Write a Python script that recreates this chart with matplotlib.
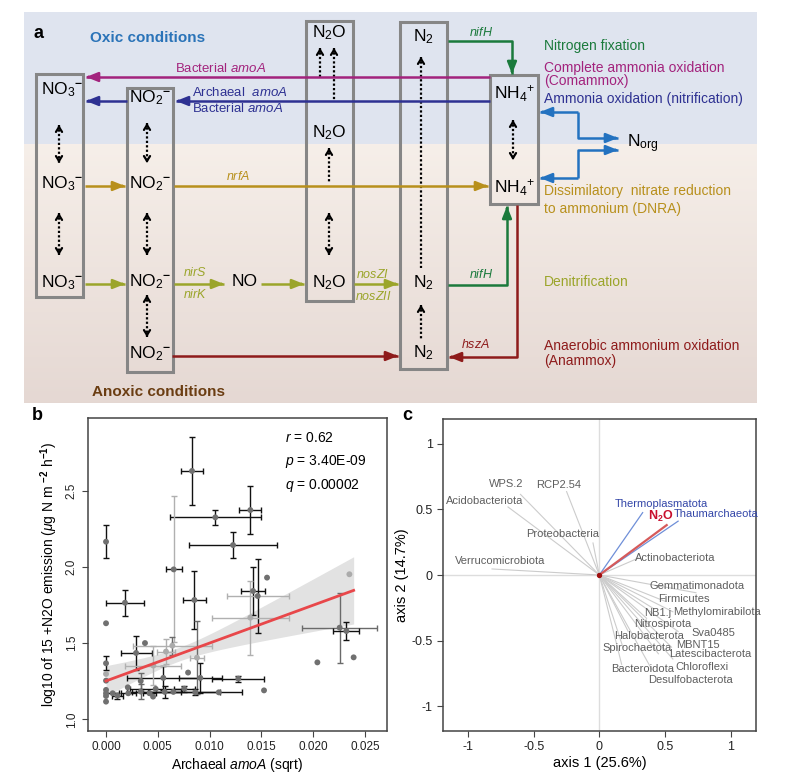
import matplotlib
matplotlib.use('Agg')
import matplotlib.pyplot as plt
import numpy as np
from matplotlib.patches import Rectangle

plt.rcParams['font.family'] = ['Liberation Sans', 'DejaVu Sans']
plt.rcParams['mathtext.fontset'] = 'custom'
plt.rcParams['mathtext.rm'] = 'Liberation Sans'
plt.rcParams['mathtext.it'] = 'Liberation Sans:italic'
plt.rcParams['mathtext.bf'] = 'Liberation Sans:bold'
NARROW = ['Liberation Sans Narrow', 'Liberation Sans', 'DejaVu Sans']

W, H = 786, 782

# ---------------- panel b data ----------------
b_x = [0, 0.0083, 0.01055, 0.01393, 0.01226, 0.00653, 0.00183, 0, 0.00853, 0.01419,
       0.01464, 0.01554, 0.01393, 0.02349, 0.02255, 0.0232, 0.0204, 0.0239, 0.01525, 0.01088,
       0.01277, 0.0091, 0.00553, 0.00376, 0.0029, 0.0064, 0.00579, 0.00878, 0.00457, 0.00792,
       0, 0, 0, 0.00335, 0.0021, 0, 0, 0, 0, 0.0011,
       0.00215, 0.00335, 0.00421, 0.00454, 0.00479, 0.0065, 0.00756, 0.00862, 0.00064, 0.00566]
b_y = [2.167, 2.632, 2.327, 2.375, 2.145, 1.985, 1.766, 1.631, 1.784, 1.843,
       1.81, 1.931, 1.668, 1.953, 1.602, 1.58, 1.374, 1.407, 1.19, 1.177,
       1.267, 1.272, 1.272, 1.501, 1.436, 1.484, 1.445, 1.405, 1.353, 1.307,
       1.368, 1.298, 1.254, 1.252, 1.21, 1.193, 1.171, 1.153, 1.116, 1.155,
       1.171, 1.182, 1.171, 1.149, 1.2, 1.18, 1.201, 1.177, 1.171, 1.18]
b_xerr = [0, 0.0011, 0.0044, 0.00106, 0.00425, 0.00077, 0.00187, 0, 0.00113, 0.0012,
          0.003, 0, 0.0037, 0, 0.0036, 0.00125, 0, 0, 0, 0,
          0.0025, 0.0021, 0.0035, 0, 0.0015, 0.0038, 0.0009, 0.0007, 0.0027, 0,
          0, 0, 0, 0, 0, 0, 0, 0, 0, 0.0005,
          0.0007, 0.0008, 0.0006, 0, 0.0025, 0.0045, 0.001, 0.0045, 0.0006, 0.0016]
b_yerr = [0.107, 0.222, 0.047, 0.16, 0.088, 0.48, 0.085, 0, 0.19, 0.16,
          0.245, 0, 0.243, 0, 0.23, 0.062, 0, 0, 0, 0,
          0.02, 0.1, 0.08, 0, 0.11, 0.06, 0.08, 0.24, 0.13, 0,
          0.047, 0, 0, 0.05, 0, 0, 0, 0, 0, 0.02,
          0, 0.05, 0, 0, 0, 0, 0.02, 0.02, 0, 0.04]
# shade group of horizontal / vertical bars and dots (0 black, 1 dark grey, 2 light grey)
b_xgrp = [0, 0, 0, 0, 0, 0, 0, 0, 0, 0,
          2, 0, 2, 0, 1, 0, 0, 0, 0, 0,
          0, 0, 0, 0, 0, 2, 2, 2, 2, 0,
          0, 0, 0, 0, 0, 0, 0, 0, 0, 0,
          0, 0, 0, 0, 0, 0, 0, 0, 0, 0]
b_ygrp = [0, 0, 0, 0, 0, 2, 0, 0, 0, 0,
          0, 0, 2, 0, 1, 0, 0, 0, 0, 0,
          0, 0, 0, 0, 0, 1, 2, 1, 2, 0,
          0, 0, 0, 1, 0, 0, 0, 0, 0, 0,
          0, 1, 0, 0, 0, 0, 0, 0, 0, 0]
b_dot = [1, 1, 1, 1, 1, 1, 1, 1, 1, 1,
         1, 1, 2, 2, 1, 1, 1, 1, 1, 1,
         1, 1, 1, 1, 1, 2, 2, 2, 2, 1,
         1, 2, 1, 1, 1, 1, 1, 1, 1, 1,
         1, 1, 1, 1, 1, 1, 1, 1, 1, 1]
fit_intercept, fit_slope = 1.252, 24.9
band_xc, band_min, band_spread = 0.007, 0.045, 12.8
fit_xrange = (0.0, 0.0239)
stats = [r'$\mathit{r}$ = 0.62', r'$\mathit{p}$ = 3.40E-09', r'$\mathit{q}$ = 0.00002']

# ---------------- panel c data ----------------
taxa = ['Acidobacteriota', 'WPS.2', 'RCP2.54', 'Proteobacteria', 'Verrucomicrobiota',
        'Thermoplasmatota', 'Thaumarchaeota', 'N2O', 'Actinobacteriota', 'Gemmatimonadota',
        'Firmicutes', 'NB1.j', 'Methylomirabilota', 'Nitrospirota', 'Sva0485',
        'Halobacterota', 'MBNT15', 'Spirochaetota', 'Latescibacterota', 'Bacteroidota',
        'Chloroflexi', 'Desulfobacterota']
axis1 = [-0.695, -0.6, -0.249, -0.048, -0.817, 0.33, 0.60, 0.513, 0.30, 0.736,
         0.5, 0.42, 0.56, 0.36, 0.6, 0.22, 0.55, 0.18, 0.56, 0.17, 0.45, 0.40]
axis2 = [0.518, 0.614, 0.635, 0.244, 0.046, 0.475, 0.41, 0.38, 0.13, -0.135,
         -0.2, -0.26, -0.28, -0.33, -0.43, -0.43, -0.55, -0.55, -0.64, -0.68, -0.6, -0.72]
# label anchors (x, y, horizontal alignment)
lab_x = [-0.876, -0.71, -0.31, -0.28, -0.756, 0.475, 0.565, 0.47, 0.576, 0.741,
         0.647, 0.546, 0.561, 0.48, 0.868, 0.378, 0.754, 0.289, 0.848, 0.332, 0.779, 0.695]
lab_y = [0.566, 0.69, 0.688, 0.31, 0.104, 0.543, 0.462, 0.444, 0.127, -0.081,
         -0.185, -0.292, -0.282, -0.373, -0.444, -0.464, -0.533, -0.558, -0.6, -0.718, -0.703, -0.8]
lab_ha = ['center'] * 6 + ['left', 'center', 'center', 'center', 'center', 'right', 'left'] + ['center'] * 9
archaea = ['Thermoplasmatota', 'Thaumarchaeota']

fig = plt.figure(figsize=(W / 100, H / 100), dpi=100, facecolor='white')

# ================= panel a (pixel coordinates) =================
ax = fig.add_axes([0, 0, 1, 1])
ax.set_xlim(0, W)
ax.set_ylim(H, 0)
ax.axis('off')

ax.add_patch(Rectangle((24, 12), 733, 132, facecolor='#dfe4ef', edgecolor='none', zorder=0))
grad = np.linspace(0, 1, 200)[:, None]
top_c = np.array([0.965, 0.937, 0.914])
bot_c = np.array([0.898, 0.847, 0.827])
img = top_c[None, None, :] * (1 - grad[:, :, None]) + bot_c[None, None, :] * grad[:, :, None]
ax.imshow(img, extent=(24, 757, 403, 144), aspect='auto', zorder=0)
ax.set_xlim(0, W)
ax.set_ylim(H, 0)

BOX = '#868686'
for (x0, y0, x1, y1) in [(36, 74, 83, 297), (127, 88, 173, 372), (306, 21, 353, 301),
                         (400, 22, 447, 369), (490, 75, 538, 204)]:
    ax.add_patch(Rectangle((x0, y0), x1 - x0, y1 - y0, facecolor='none',
                           edgecolor=BOX, lw=2.2, zorder=3))

SP = 12.5
NO3 = r'NO$_3{}^{\mathbf{-}}$'
NO2 = r'NO$_2{}^{\mathbf{-}}$'
NH4 = r'NH$_4{}^{+}$'
species = [(62, 90, NO3), (62, 184, NO3), (62, 283, NO3),
           (150, 98, NO2), (150, 184, NO2), (150, 282, NO2), (150, 354, NO2),
           (329, 33, r'N$_2$O'), (329, 133, r'N$_2$O'), (329, 283, r'N$_2$O'),
           (423, 37, r'N$_2$'), (423, 283, r'N$_2$'), (423, 353, r'N$_2$'),
           (515, 94, NH4), (515, 188, NH4),
           (245, 281, 'NO'), (643, 144, r'N$_{\mathrm{org}}$')]
for x, y, s in species:
    ax.text(x, y, s, fontsize=SP, ha='center', va='center', color='black', zorder=5)


def head(x, y, dx, dy, color, style='-|>,head_length=0.7,head_width=0.28', lw=1.8):
    ax.annotate('', xy=(x, y), xytext=(x - dx, y - dy),
                arrowprops=dict(arrowstyle=style, color=color, lw=lw,
                                shrinkA=0, shrinkB=0), zorder=4)


def path_arrow(xs, ys, color, end_head=True, lw=1.8):
    ax.plot(xs, ys, color=color, lw=lw, solid_capstyle='butt', zorder=4)
    if end_head:
        dx, dy = xs[-1] - xs[-2], ys[-1] - ys[-2]
        n = np.hypot(dx, dy)
        head(xs[-1], ys[-1], dx / n * 3, dy / n * 3, color, lw=lw)


def dotted(x, ya, yb, top_head=True, bottom_head=True):
    ax.plot([x, x], [ya, yb], color='black', lw=1.6, ls=(0, (1, 1)), zorder=4)
    st = '->,head_length=0.35,head_width=0.22'
    if top_head:
        head(x, ya, 0, -3, 'black', style=st, lw=1.6)
    if bottom_head:
        head(x, yb, 0, 3, 'black', style=st, lw=1.6)


# dotted conversions inside boxes
dotted(59, 125, 163)
dotted(59, 213, 255)
dotted(147, 123, 163)
dotted(147, 213, 255)
dotted(147, 295, 337)
dotted(320, 48, 78, bottom_head=False)
dotted(334, 48, 100, bottom_head=False)
dotted(329, 148, 183, bottom_head=False)
dotted(329, 213, 255)
dotted(421, 57, 268, bottom_head=False)
dotted(421, 305, 339, bottom_head=False)
dotted(513, 120, 160)

MAG, NAVY, GREEN, GOLD = '#a3237d', '#2e3192', '#1b7a3c', '#b8901c'
OLIVE, DRED, NBLUE = '#9ba52a', '#8e1b1b', '#2372c0'

# comammox
path_arrow([490, 86], [77, 77], MAG)
ax.text(221, 68, r'Bacterial $\mathit{amoA}$', color=MAG, fontsize=9.5, ha='center', va='center')
# ammonia oxidation
path_arrow([490, 176], [101, 101], NAVY)
path_arrow([127, 86], [101, 101], NAVY)
ax.text(240, 92, r'Archaeal  $\mathit{amoA}$', color=NAVY, fontsize=9.5, ha='center', va='center')
ax.text(238, 109, r'Bacterial $\mathit{amoA}$', color=NAVY, fontsize=9.5, ha='center', va='center')
# nitrogen fixation
path_arrow([448, 512, 512], [41, 41, 74], GREEN)
ax.text(481, 32, r'$\mathit{nifH}$', color=GREEN, fontsize=9, ha='center', va='center')
path_arrow([448, 507, 507], [285, 285, 206], GREEN)
ax.text(481, 274, r'$\mathit{nifH}$', color=GREEN, fontsize=9, ha='center', va='center')
# DNRA
path_arrow([85, 125], [186, 186], GOLD)
path_arrow([174, 488], [186, 186], GOLD)
ax.text(238, 177, r'$\mathit{nrfA}$', color=GOLD, fontsize=9, ha='center', va='center')
# denitrification
path_arrow([85, 125], [284, 284], OLIVE)
path_arrow([174, 224], [284, 284], OLIVE)
path_arrow([261, 304], [284, 284], OLIVE)
path_arrow([354, 398], [284, 284], OLIVE)
for x, y, s in [(195, 273, 'nirS'), (195, 295, 'nirK'), (373, 274, 'nosZI'), (373, 297, 'nosZII')]:
    ax.text(x, y, r'$\mathit{%s}$' % s, color=OLIVE, fontsize=9, ha='center', va='center')
# anammox
path_arrow([172, 398], [356, 356], DRED)
path_arrow([517, 517, 449], [205, 357, 357], DRED)
ax.text(476, 345, r'$\mathit{hszA}$', color=DRED, fontsize=9, ha='center', va='center')
# organic N
path_arrow([578, 578, 618], [112, 138, 138], NBLUE)
path_arrow([578, 578, 618], [178, 150, 150], NBLUE)
path_arrow([578, 540], [112, 112], NBLUE)
path_arrow([578, 540], [178, 178], NBLUE)

# process labels
procs = [(46, 'Nitrogen fixation', GREEN), (68, 'Complete ammonia oxidation', MAG),
         (81, '(Comammox)', MAG), (99, 'Ammonia oxidation (nitrification)', NAVY),
         (191, 'Dissimilatory  nitrate reduction', GOLD), (209, 'to ammonium (DNRA)', GOLD),
         (282, 'Denitrification', OLIVE), (346, 'Anaerobic ammonium oxidation', DRED),
         (361, '(Anammox)', DRED)]
for y, s, c in procs:
    ax.text(544, y, s, color=c, fontsize=10, family=NARROW, ha='left', va='center')

ax.text(90, 38, 'Oxic conditions', color='#2a73b8', fontsize=11, family=NARROW,
        fontweight='bold', ha='left', va='center')
ax.text(92, 392, 'Anoxic conditions', color='#6b3d12', fontsize=11, family=NARROW,
        fontweight='bold', ha='left', va='center')
ax.text(38, 33, 'a', fontsize=13, fontweight='bold', ha='center', va='center')
ax.text(37, 416, 'b', fontsize=13, fontweight='bold', ha='center', va='center')
ax.text(407, 416, 'c', fontsize=13, fontweight='bold', ha='center', va='center')

# ================= panel b =================
FRAME = '#444444'
ax_b = fig.add_axes([88 / W, 1 - 731 / H, 299 / W, 313 / H])
shade = {0: '#111111', 1: '#6a6a6a', 2: '#b0b0b0'}
dots = {1: '#707070', 2: '#ababab'}

xs = np.linspace(fit_xrange[0], fit_xrange[1], 100)
fit = fit_intercept + fit_slope * xs
hw = np.sqrt(band_min ** 2 + band_spread ** 2 * (xs - band_xc) ** 2)
ax_b.fill_between(xs, fit - hw, fit + hw, color='#e2e2e2', lw=0, zorder=1)

for i in range(len(b_x)):
    if b_xerr[i] > 0:
        ax_b.errorbar(b_x[i], b_y[i], xerr=b_xerr[i], fmt='none', ecolor=shade[b_xgrp[i]],
                      elinewidth=1, capsize=2.2, capthick=1, zorder=2)
    if b_yerr[i] > 0:
        ax_b.errorbar(b_x[i], b_y[i], yerr=b_yerr[i], fmt='none', ecolor=shade[b_ygrp[i]],
                      elinewidth=1, capsize=2.2, capthick=1, zorder=2)
ax_b.scatter(b_x, b_y, s=18, c=[dots[g] for g in b_dot], edgecolors='none', zorder=3)
ax_b.plot(xs, fit, color='#e8474a', lw=2, zorder=4)

ax_b.set_xlim(-0.00174, 0.02712)
ax_b.set_ylim(0.923, 2.98)
ax_b.set_xticks([0, 0.005, 0.01, 0.015, 0.02, 0.025])
ax_b.set_xticklabels(['0.000', '0.005', '0.010', '0.015', '0.020', '0.025'])
ax_b.set_yticks([1.0, 1.5, 2.0, 2.5])
ax_b.set_yticklabels(['1.0', '1.5', '2.0', '2.5'], rotation=90, va='center')
ax_b.tick_params(labelsize=8.5, color=FRAME, length=4, labelcolor='#222222')
for s in ax_b.spines.values():
    s.set_color(FRAME)
    s.set_linewidth(1.1)
ax_b.set_xlabel(r'Archaeal $\mathit{amoA}$ (sqrt)', fontsize=10, labelpad=2)
ax_b.set_ylabel(r'log10 of 15 +N2O emission ($\mathit{\mu}$g N m $^{\mathbf{-2}}$ h$^{\mathbf{-1}}$)',
                fontsize=10, labelpad=4)
for k, s in enumerate(stats):
    ax_b.text(0.66, 0.935 - k * 0.075, s, transform=ax_b.transAxes, fontsize=10,
              ha='left', va='center')

# ================= panel c =================
ax_c = fig.add_axes([443 / W, 1 - 731 / H, 313 / W, 312 / H])
ax_c.axhline(0, color='#dddddd', lw=1, zorder=0)
ax_c.axvline(0, color='#dddddd', lw=1, zorder=0)
for name, a1, a2, lx, ly, ha in zip(taxa, axis1, axis2, lab_x, lab_y, lab_ha):
    if name == 'N2O':
        ax_c.plot([0, a1], [0, a2], color='#d65a5a', lw=1.6, zorder=3)
        ax_c.text(lx, ly, r'$\mathbf{N_2O}$', color='#c8102e', fontsize=9,
                  ha=ha, va='center', zorder=5)
    elif name in archaea:
        ax_c.plot([0, a1], [0, a2], color='#6f8fd8', lw=0.9, zorder=2)
        ax_c.text(lx, ly, name, color='#3346a8', fontsize=8, ha=ha, va='center', zorder=5)
    else:
        ax_c.plot([0, a1], [0, a2], color='#cccccc', lw=0.8, zorder=1)
        ax_c.text(lx, ly, name, color='#5e5e5e', fontsize=8, ha=ha, va='center', zorder=5)
ax_c.scatter([0], [0], s=8, color='#a01010', zorder=4)
ax_c.set_xlim(-1.19, 1.193)
ax_c.set_ylim(-1.188, 1.188)
ax_c.set_xticks([-1, -0.5, 0, 0.5, 1])
ax_c.set_xticklabels(['-1', '-0.5', '0', '0.5', '1'])
ax_c.set_yticks([-1, -0.5, 0, 0.5, 1])
ax_c.set_yticklabels(['-1', '-0.5', '0', '0.5', '1'])
ax_c.tick_params(labelsize=9, color=FRAME, length=4, labelcolor='#222222')
for s in ax_c.spines.values():
    s.set_color(FRAME)
    s.set_linewidth(1.1)
ax_c.set_xlabel('axis 1 (25.6%)', fontsize=10.5, labelpad=2)
ax_c.set_ylabel('axis 2 (14.7%)', fontsize=10.5, labelpad=2)

fig.savefig('out.png', dpi=100, facecolor='white')
plt.close()
